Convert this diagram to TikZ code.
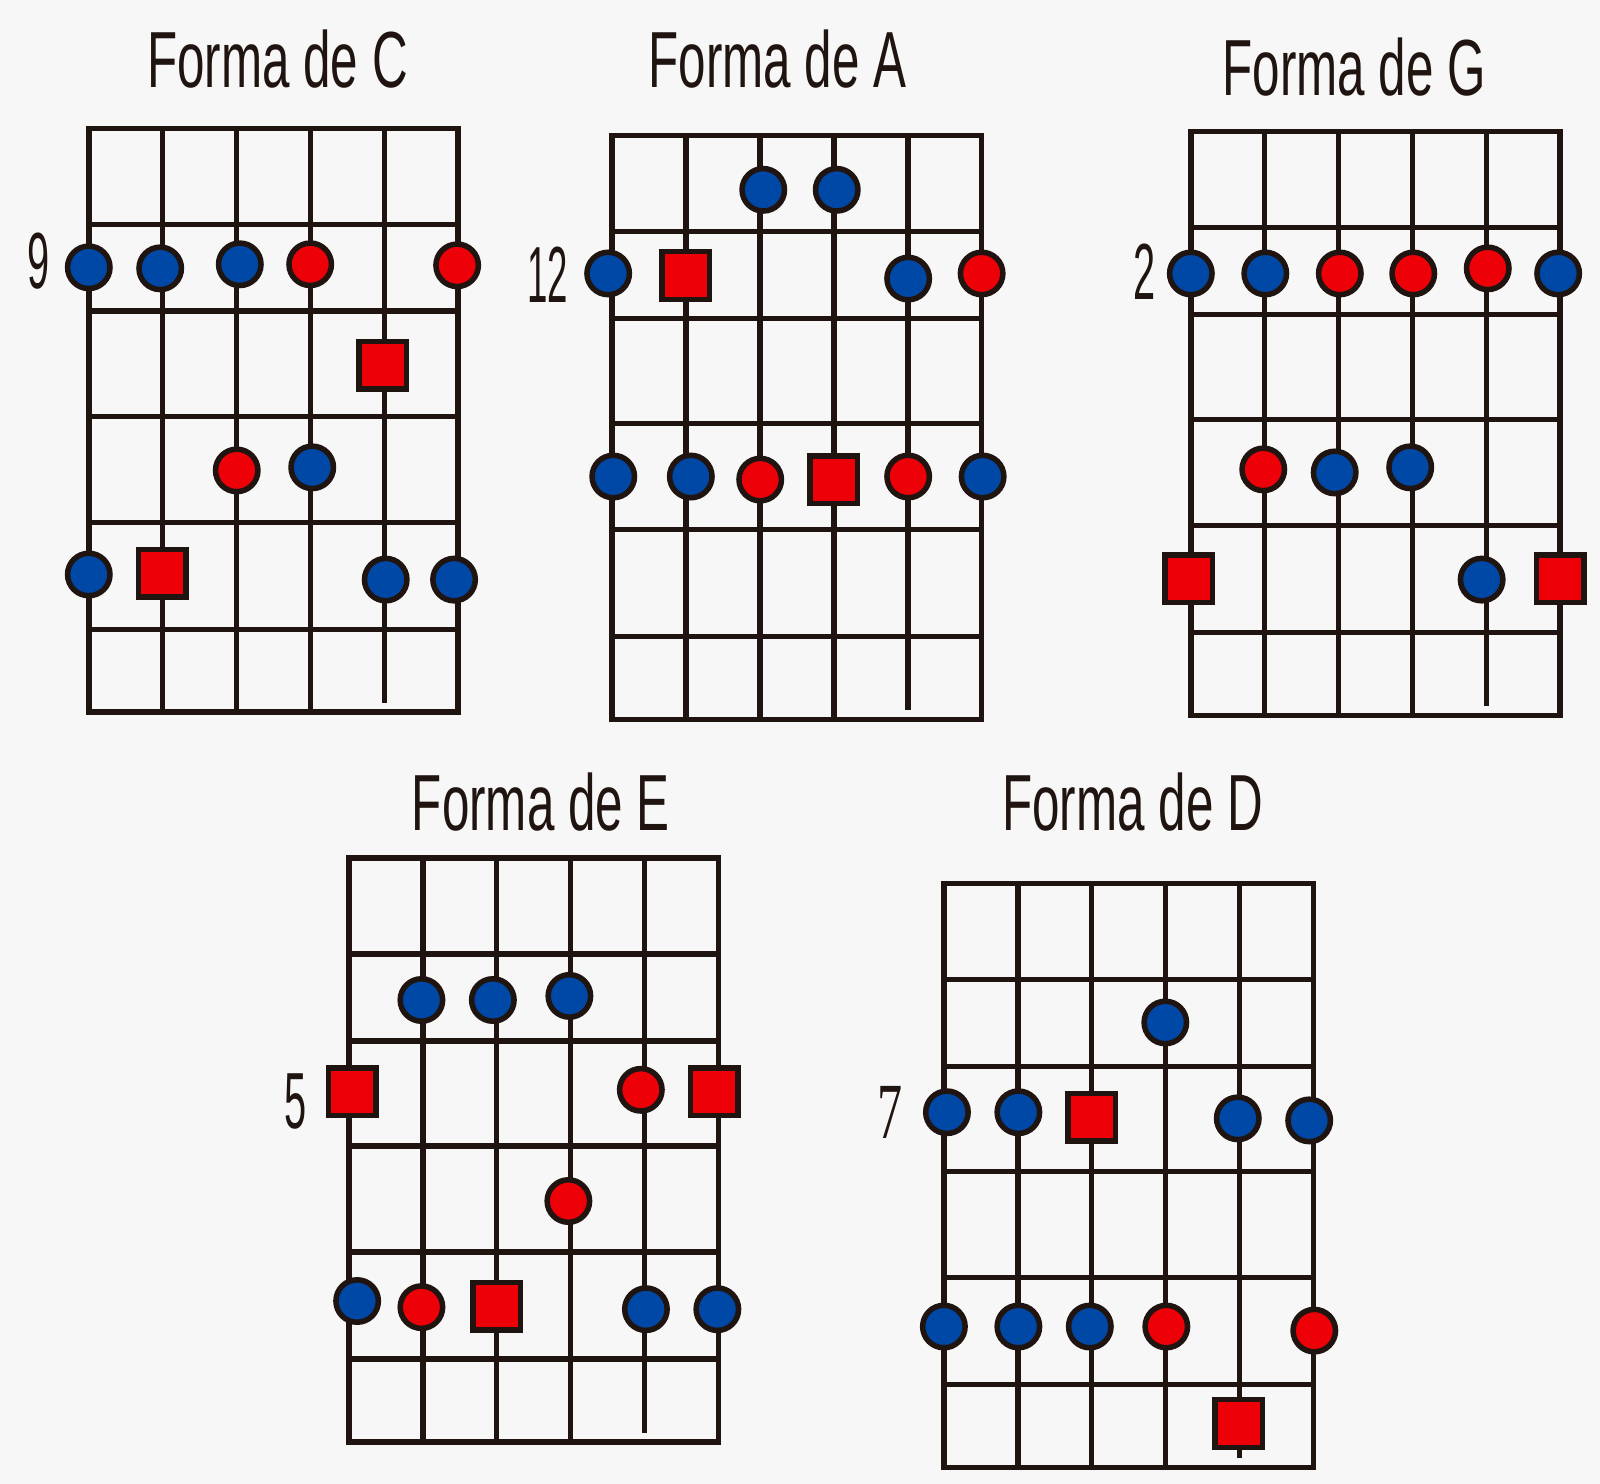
\documentclass[tikz,border=0pt]{standalone}
\usepackage{fontspec}
\setmainfont{Liberation Sans}
\newfontfamily\serifa{Liberation Serif}

\definecolor{linea}{RGB}{32,20,16}
\definecolor{azul}{RGB}{0,72,165}
\definecolor{rojo}{RGB}{238,0,8}
\definecolor{fondo}{RGB}{247,247,247}

% texto estrecho
\newcommand{\estrecho}[2]{\scalebox{#1}[1]{#2}}
% mastil: esquina superior izquierda (#1,#2)
\newcommand{\diapason}[2]{%
  \foreach \f in {94,179,282,386,491}
    \draw[traste] (#1,#2+\f) -- ++(362,0);
  \foreach \s in {1,2,3,5}
    \draw[traste] ({#1+72.4*\s},#2) -- ++(0,572);
  \draw[traste] ({#1+72.4*4},#2) -- ++(0,563);
  \draw[traste] (#1,#2) rectangle ++(362,572);}

\begin{document}
\begin{tikzpicture}[
                x=0.5pt, y=-0.5pt,
                every node/.style={inner sep=0pt},
                traste/.style={draw=linea, line width=2.7pt},
                punto/.style={circle, draw=linea, line width=2.7pt, minimum size=20.8pt},
                pazul/.style={punto, fill=azul},
                projo/.style={punto, fill=rojo},
                pcuadro/.style={rectangle, draw=linea, line width=2.7pt, minimum size=23.3pt, fill=rojo},
                titulo/.style={font=\fontsize{39}{39}\selectfont, text=linea, anchor=base},
                numero/.style={font=\fontsize{39}{39}\selectfont, text=linea, anchor=base}
            ]
                \fill[fondo] (0,0) rectangle (1568,1454);

                % titulos
                \node[titulo] (tC) at (272,86) {\estrecho{0.62}{Forma de C}};
                \node[titulo] (tA) at (762,86) {\estrecho{0.62}{Forma de A}};
                \node[titulo] (tG) at (1327,94) {\estrecho{0.62}{Forma de G}};
                \node[titulo] (tE) at (530,814) {\estrecho{0.62}{Forma de E}};
                \node[titulo] (tD) at (1110,814) {\estrecho{0.62}{Forma de D}};

                % mastiles
                \diapason{87}{126}
                \diapason{600}{133}
                \diapason{1167}{129}
                \diapason{342}{841}
                \diapason{925}{866}

                % numeros de traste
                \node[numero] (n9) at (38,283) {\estrecho{0.5}{9}};
                \node[numero] (n12) at (537,296) {\estrecho{0.46}{12}};
                \node[numero] (n2) at (1122,294) {\estrecho{0.5}{2}};
                \node[numero] (n5) at (290,1106) {\estrecho{0.5}{5}};
                \node[numero] (n7) at (872,1116) {\serifa\estrecho{0.63}{7}};

                % forma de C
                \node[pazul] (c1) at (87,262) {};
                \node[pazul] (c2) at (157,263) {};
                \node[pazul] (c3) at (235,259) {};
                \node[projo] (c4) at (304,259) {};
                \node[projo] (c5) at (448,260) {};
                \node[pcuadro] (c6) at (375,358) {};
                \node[projo] (c7) at (232,461) {};
                \node[pazul] (c8) at (306,458) {};
                \node[pazul] (c9) at (87,563) {};
                \node[pcuadro] (c10) at (159,562) {};
                \node[pazul] (c11) at (378,568) {};
                \node[pazul] (c12) at (445,568) {};

                % forma de A
                \node[pazul] (a1) at (748,186) {};
                \node[pazul] (a2) at (820,186) {};
                \node[pazul] (a3) at (596,268) {};
                \node[pcuadro] (a4) at (672,270) {};
                \node[pazul] (a5) at (890,273) {};
                \node[projo] (a6) at (962,268) {};
                \node[pazul] (a7) at (601,467) {};
                \node[pazul] (a8) at (677,467) {};
                \node[projo] (a9) at (745,470) {};
                \node[pcuadro] (a10) at (817,470) {};
                \node[projo] (a11) at (890,467) {};
                \node[pazul] (a12) at (963,467) {};

                % forma de G
                \node[pazul] (g1) at (1167,268) {};
                \node[pazul] (g2) at (1240,268) {};
                \node[projo] (g3) at (1313,268) {};
                \node[projo] (g4) at (1385,268) {};
                \node[projo] (g5) at (1458,263) {};
                \node[pazul] (g6) at (1527,268) {};
                \node[projo] (g7) at (1238,460) {};
                \node[pazul] (g8) at (1308,463) {};
                \node[pazul] (g9) at (1382,458) {};
                \node[pcuadro] (g10) at (1165,567) {};
                \node[pazul] (g11) at (1452,568) {};
                \node[pcuadro] (g12) at (1529,567) {};

                % forma de E
                \node[pazul] (e1) at (413,980) {};
                \node[pazul] (e2) at (483,980) {};
                \node[pazul] (e3) at (558,976) {};
                \node[pcuadro] (e4) at (345,1070) {};
                \node[projo] (e5) at (628,1068) {};
                \node[pcuadro] (e6) at (700,1070) {};
                \node[projo] (e7) at (557,1177) {};
                \node[pazul] (e8) at (350,1275) {};
                \node[projo] (e9) at (413,1281) {};
                \node[pcuadro] (e10) at (487,1280) {};
                \node[pazul] (e11) at (633,1283) {};
                \node[pazul] (e12) at (703,1283) {};

                % forma de D
                \node[pazul] (d1) at (1142,1002) {};
                \node[pazul] (d2) at (928,1090) {};
                \node[pazul] (d3) at (998,1090) {};
                \node[pcuadro] (d4) at (1070,1095) {};
                \node[pazul] (d5) at (1213,1096) {};
                \node[pazul] (d6) at (1283,1098) {};
                \node[pazul] (d7) at (925,1300) {};
                \node[pazul] (d8) at (998,1300) {};
                \node[pazul] (d9) at (1068,1300) {};
                \node[projo] (d10) at (1143,1300) {};
                \node[projo] (d11) at (1288,1304) {};
                \node[pcuadro] (d12) at (1214,1395) {};
            \end{tikzpicture}
\end{document}
